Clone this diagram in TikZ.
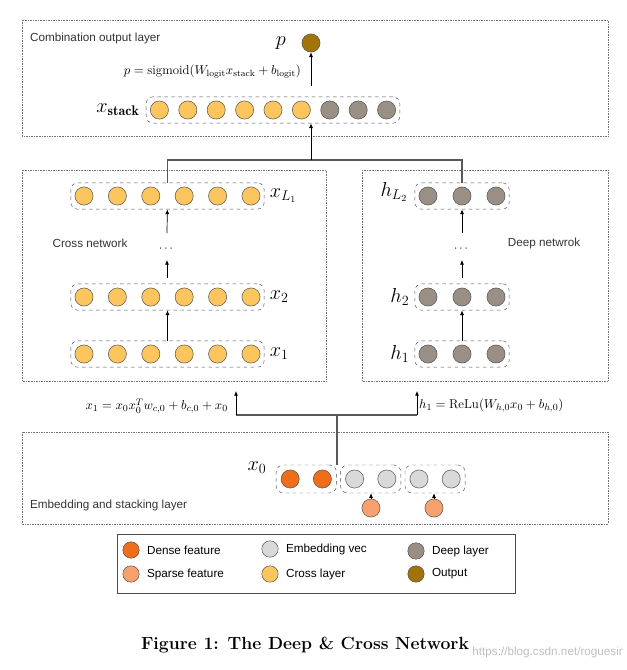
\documentclass[tikz,border=0pt]{standalone}
\usepackage{amsmath}
\usepackage{fontspec}
\newfontfamily\lblfont{Liberation Sans}
\usetikzlibrary{arrows.meta,positioning,fit}
\definecolor{crossc}{HTML}{FCC55E}
\definecolor{deepc}{HTML}{9A8F85}
\definecolor{densec}{HTML}{EE6E1A}
\definecolor{sparsec}{HTML}{F7A16E}
\definecolor{embc}{HTML}{D9D9D9}
\definecolor{outc}{HTML}{A2730B}
\tikzset{
  unit/.style={circle, draw=black!70, inner sep=0pt, minimum size=15.5pt},
  layer/.style={draw=black!70, dashed, rounded corners=6pt},
  region/.style={draw=black!55, densely dotted},
  lbl/.style={font=\lblfont\fontsize{10}{12}\selectfont, text=black!80},
  vlbl/.style={font=\fontsize{17}{20}\selectfont},
  up/.style={-{Latex[length=4pt,width=3.5pt]}, line width=0.6pt},
  link/.style={draw=black!65, line width=0.9pt}
}
\begin{document}
\begin{tikzpicture}[x=0.03cm,y=-0.03cm]
\useasboundingbox (0,0) rectangle (627,670);
% regions
\draw[region] (22,20) rectangle (608,136);
\draw[region] (22,170) rectangle (326,381);
\draw[region] (362,170) rectangle (608,381);
\draw[region] (22,432) rectangle (608,524);
\node[lbl, anchor=west] (combo) at (26,38) {Combination output layer};
\node[lbl] (crossnet) at (90,243) {Cross network};
\node[lbl] (deepnet) at (544,243) {Deep netwrok};
\node[lbl, anchor=west] (embtxt) at (26,505) {Embedding and stacking layer};

% output
\node[unit, fill=outc] (p) at (311,43) {};
\node[vlbl, left=10pt of p] (plbl) {$p$};
\node[anchor=east] (pform) at (305,72) {\fontsize{11}{13}\selectfont$p=\mathrm{sigmoid}(W_{\mathrm{logit}}x_{\mathrm{stack}}+b_{\mathrm{logit}})$};
% stack layer
\foreach \i/\c in {1/crossc,2/crossc,3/crossc,4/crossc,5/crossc,6/crossc,7/deepc,8/deepc,9/deepc}
  \node[unit, fill=\c] (s\i) at (131+\i*28.4,110) {};
\node[layer, fit=(s1)(s9)] (stack) {};
\node[vlbl, left=2pt of stack] {$x_{\mathbf{stack}}$};
\draw[up] (311,86) -- (p);

% cross network
\foreach \r/\y in {L/196,b/297,a/354}{
  \foreach \i in {1,...,6}
    \node[unit, fill=crossc] (c\r\i) at (50.6+\i*33.4,\y) {};
  \node[layer, fit=(c\r1)(c\r6)] (cross\r) {};
}
\node[vlbl, right=1pt of crossL] {$x_{L_1}$};
\node[vlbl, right=1pt of crossb] {$x_2$};
\node[vlbl, right=1pt of crossa] {$x_1$};
\node (cdots) at (167,249) {$\cdots$};
\draw[up] (crossa) -- (crossb);
\draw[up] (167,278) -- (167,260);
\draw[up] (167,233) -- (crossL);

% deep network
\foreach \r/\y in {L/196,b/297,a/354}{
  \foreach \i in {1,2,3}
    \node[unit, fill=deepc] (d\r\i) at (394+\i*34,\y) {};
  \node[layer, fit=(d\r1)(d\r3)] (deep\r) {};
}
\node[vlbl] at (394,192) {$h_{L_2}$};
\node[vlbl, left=1pt of deepb] {$h_2$};
\node[vlbl, left=1pt of deepa] {$h_1$};
\node (ddots) at (462,249) {$\cdots$};
\draw[up] (deepa) -- (deepb);
\draw[up] (462,278) -- (462,260);
\draw[up] (462,233) -- (deepL);

% combine
\coordinate (join) at (311,160);
\draw[link] (crossL.north) |- (join) -| (deepL.north);
\draw[up] (join) -- (join |- stack.south);

% embedding
\foreach \i/\c in {1/densec,2/densec,3/embc,4/embc,5/embc,6/embc}
  \node[unit, fill=\c] (e\i) at (258+\i*32.2,479) {};
\node[layer, fit=(e1)(e2), inner sep=4pt] (dense) {};
\node[layer, fit=(e3)(e4), inner sep=4pt] (embA) {};
\node[layer, fit=(e5)(e6), inner sep=4pt] (embB) {};
\node[vlbl] at (257,468) {$x_0$};
\node[unit, fill=sparsec] (sp1) at (371,508) {};
\node[unit, fill=sparsec] (sp2) at (434,508) {};
\draw[up] (sp1) -- (sp1 |- embA.south);
\draw[up] (sp2) -- (sp2 |- embB.south);

% first layer inputs
\coordinate (split) at (337,415);
\draw[link] (split |- dense.north) -- (split);
\coordinate (cin) at (236,415);
\coordinate (din) at (417,415);
\draw[link] (cin) -- (din);
\draw[up] (cin) -- (236,391);
\draw[up] (din) -- (417,391);
\node[anchor=east] at (232,406) {\fontsize{11}{13}\selectfont$x_1=x_0x_0^Tw_{c,0}+b_{c,0}+x_0$};
\node[anchor=west] at (415,406) {\fontsize{11}{13}\selectfont$h_1=\mathrm{ReLu}(W_{h,0}x_0+b_{h,0})$};

% legend
\draw[draw=black!70, line width=0.8pt] (117,534) rectangle (515,593);
\foreach \n/\c/\x/\y/\t in {ldense/densec/131/550/Dense feature, lsparse/sparsec/131/574/Sparse feature,
  lemb/embc/270/549/Embedding vec, lcross/crossc/270/574/Cross layer,
  ldeep/deepc/416/551/Deep layer, lout/outc/416/574/Output}{
  \node[unit, fill=\c, minimum size=14pt] (\n) at (\x,\y) {};
  \node[lbl, text=black, right=3pt of \n] {\t};
}

% caption
\node[font=\fontsize{15}{18}\selectfont\bfseries] (caption) at (305,645) {Figure 1: The Deep \& Cross Network};
\node[lbl, text=black!25, anchor=east] at (627,652) {https://blog.csdn.net/roguesir};
\end{tikzpicture}
\end{document}
